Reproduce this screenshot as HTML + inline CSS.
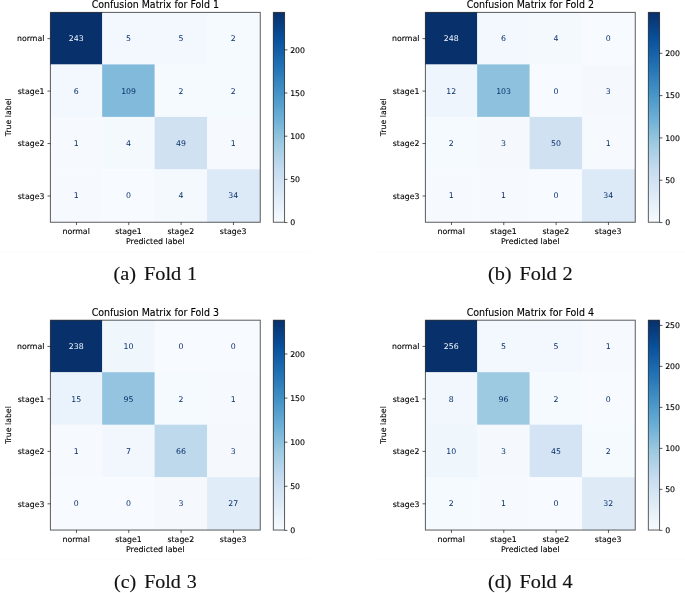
<!DOCTYPE html>
<html lang="en"><head><meta charset="utf-8"><title>Confusion matrices</title>
<style>
html,body{margin:0;padding:0;background:#fff;}
body{width:685px;height:593px;overflow:hidden;}
svg{display:block;}
.s{font-family:"DejaVu Sans","Liberation Sans",sans-serif;font-size:7.8px;fill:#000000;stroke:#000000;stroke-width:0.12px;}
.t{font-family:"DejaVu Sans","Liberation Sans",sans-serif;font-size:9.47px;fill:#000000;stroke:#000000;stroke-width:0.12px;}
.c{font-family:"Liberation Serif","DejaVu Serif",serif;font-size:19px;fill:#111;stroke:#111;stroke-width:0.15px;word-spacing:1.5px;}
.m{text-anchor:middle;}.e{text-anchor:end;}
.d{fill:#08306b;stroke:none;}.l{fill:#f7fbff;stroke:none;}
.k{stroke:#000000;stroke-opacity:0.64;stroke-width:1;fill:none;}
</style></head><body>
<svg width="685" height="593" viewBox="0 0 685 593">
<defs><linearGradient id="blues" x1="0" y1="1" x2="0" y2="0">
<stop offset="0" stop-color="#f7fbff"/>
<stop offset="0.125" stop-color="#deebf7"/>
<stop offset="0.25" stop-color="#c6dbef"/>
<stop offset="0.375" stop-color="#9dcae1"/>
<stop offset="0.5" stop-color="#6aaed6"/>
<stop offset="0.625" stop-color="#4191c6"/>
<stop offset="0.75" stop-color="#2070b4"/>
<stop offset="0.875" stop-color="#08509b"/>
<stop offset="1" stop-color="#08306b"/>
</linearGradient></defs>
<rect x="0" y="0" width="685" height="593" fill="#ffffff"/>
<rect x="0" y="251.3" width="310.6" height="1.2" fill="#fdfdfd"/>
<rect x="375.6" y="251.3" width="309.4" height="1.2" fill="#fdfdfd"/>
<rect x="0" y="558.9" width="310.6" height="1.2" fill="#fdfdfd"/>
<rect x="375.6" y="558.9" width="309.4" height="1.2" fill="#fdfdfd"/>
<g>
<text class="t m" transform="translate(155.32 7.8) scale(1 1.09)">Confusion Matrix for Fold 1</text>
<rect x="50.4" y="12.4" width="52.06" height="52.31" fill="#08306b"/>
<rect x="102.16" y="12.4" width="52.76" height="52.31" fill="#f3f8fe"/>
<rect x="154.62" y="12.4" width="52.76" height="52.31" fill="#f3f8fe"/>
<rect x="207.09" y="12.4" width="53.16" height="52.31" fill="#f5fafe"/>
<rect x="50.4" y="64.41" width="52.06" height="52.76" fill="#f2f8fd"/>
<rect x="102.16" y="64.41" width="52.76" height="52.76" fill="#81badb"/>
<rect x="154.62" y="64.41" width="52.76" height="52.76" fill="#f5fafe"/>
<rect x="207.09" y="64.41" width="53.16" height="52.76" fill="#f5fafe"/>
<rect x="50.4" y="116.88" width="52.06" height="52.76" fill="#f6faff"/>
<rect x="102.16" y="116.88" width="52.76" height="52.76" fill="#f4f9fe"/>
<rect x="154.62" y="116.88" width="52.76" height="52.76" fill="#d0e1f2"/>
<rect x="207.09" y="116.88" width="53.16" height="52.76" fill="#f6faff"/>
<rect x="50.4" y="169.34" width="52.06" height="52.91" fill="#f6faff"/>
<rect x="102.16" y="169.34" width="52.76" height="52.91" fill="#f7fbff"/>
<rect x="154.62" y="169.34" width="52.76" height="52.91" fill="#f4f9fe"/>
<rect x="207.09" y="169.34" width="53.16" height="52.91" fill="#dce9f6"/>
<text class="s m l" x="76.25" y="41.45">243</text>
<text class="s m d" x="128.58" y="41.45">5</text>
<text class="s m d" x="180.91" y="41.45">5</text>
<text class="s m d" x="233.24" y="41.45">2</text>
<text class="s m d" x="76.25" y="93.76">6</text>
<text class="s m d" x="128.58" y="93.76">109</text>
<text class="s m d" x="180.91" y="93.76">2</text>
<text class="s m d" x="233.24" y="93.76">2</text>
<text class="s m d" x="76.25" y="146.07">1</text>
<text class="s m d" x="128.58" y="146.07">4</text>
<text class="s m d" x="180.91" y="146.07">49</text>
<text class="s m d" x="233.24" y="146.07">1</text>
<text class="s m d" x="76.25" y="198.38">1</text>
<text class="s m d" x="128.58" y="198.38">0</text>
<text class="s m d" x="180.91" y="198.38">4</text>
<text class="s m d" x="233.24" y="198.38">34</text>
<rect class="k" x="50.4" y="12.4" width="209.85" height="209.85"/>
<line class="k" x1="47.5" y1="38.63" x2="50.4" y2="38.63"/>
<line class="k" x1="76.45" y1="222.25" x2="76.45" y2="225.15"/>
<text class="s e" x="44.4" y="41.45">normal</text>
<text class="s m" x="76.15" y="233.95">normal</text>
<line class="k" x1="47.5" y1="91.09" x2="50.4" y2="91.09"/>
<line class="k" x1="128.78" y1="222.25" x2="128.78" y2="225.15"/>
<text class="s e" x="44.4" y="93.91">stage1</text>
<text class="s m" x="128.48" y="233.95">stage1</text>
<line class="k" x1="47.5" y1="143.56" x2="50.4" y2="143.56"/>
<line class="k" x1="181.11" y1="222.25" x2="181.11" y2="225.15"/>
<text class="s e" x="44.4" y="146.38">stage2</text>
<text class="s m" x="180.81" y="233.95">stage2</text>
<line class="k" x1="47.5" y1="196.02" x2="50.4" y2="196.02"/>
<line class="k" x1="233.44" y1="222.25" x2="233.44" y2="225.15"/>
<text class="s e" x="44.4" y="198.84">stage3</text>
<text class="s m" x="233.14" y="233.95">stage3</text>
<text class="s m" style="font-size:7.9px" x="155.32" y="244.35">Predicted label</text>
<text class="s m" transform="translate(11.1 117.33) rotate(-90)">True label</text>
<rect x="273.35" y="12.4" width="11.2" height="209.85" fill="url(#blues)"/>
<rect class="k" x="273.35" y="12.4" width="11.2" height="209.85"/>
<line class="k" x1="284.55" y1="222.55" x2="287.45" y2="222.55"/>
<text class="s" x="290.15" y="225.37">0</text>
<line class="k" x1="284.55" y1="179.37" x2="287.45" y2="179.37"/>
<text class="s" x="290.15" y="182.19">50</text>
<line class="k" x1="284.55" y1="136.19" x2="287.45" y2="136.19"/>
<text class="s" x="290.15" y="139.01">100</text>
<line class="k" x1="284.55" y1="93.01" x2="287.45" y2="93.01"/>
<text class="s" x="290.15" y="95.83">150</text>
<line class="k" x1="284.55" y1="49.83" x2="287.45" y2="49.83"/>
<text class="s" x="290.15" y="52.65">200</text>
<text class="c" x="113.45" y="280.3" textLength="83.75" lengthAdjust="spacingAndGlyphs">(a) <tspan dx="1.3">Fold</tspan> <tspan dx="-0.8">1</tspan></text>
</g>
<g>
<text class="t m" transform="translate(530.32 7.8) scale(1 1.09)">Confusion Matrix for Fold 2</text>
<rect x="425.4" y="12.4" width="52.06" height="52.31" fill="#08306b"/>
<rect x="477.16" y="12.4" width="52.76" height="52.31" fill="#f2f8fd"/>
<rect x="529.62" y="12.4" width="52.76" height="52.31" fill="#f4f9fe"/>
<rect x="582.09" y="12.4" width="53.16" height="52.31" fill="#f7fbff"/>
<rect x="425.4" y="64.41" width="52.06" height="52.76" fill="#eef5fc"/>
<rect x="477.16" y="64.41" width="52.76" height="52.76" fill="#8dc1dd"/>
<rect x="529.62" y="64.41" width="52.76" height="52.76" fill="#f7fbff"/>
<rect x="582.09" y="64.41" width="53.16" height="52.76" fill="#f5f9fe"/>
<rect x="425.4" y="116.88" width="52.06" height="52.76" fill="#f5fafe"/>
<rect x="477.16" y="116.88" width="52.76" height="52.76" fill="#f5f9fe"/>
<rect x="529.62" y="116.88" width="52.76" height="52.76" fill="#d0e1f2"/>
<rect x="582.09" y="116.88" width="53.16" height="52.76" fill="#f6faff"/>
<rect x="425.4" y="169.34" width="52.06" height="52.91" fill="#f6faff"/>
<rect x="477.16" y="169.34" width="52.76" height="52.91" fill="#f6faff"/>
<rect x="529.62" y="169.34" width="52.76" height="52.91" fill="#f7fbff"/>
<rect x="582.09" y="169.34" width="53.16" height="52.91" fill="#dce9f6"/>
<text class="s m l" x="451.25" y="41.45">248</text>
<text class="s m d" x="503.58" y="41.45">6</text>
<text class="s m d" x="555.91" y="41.45">4</text>
<text class="s m d" x="608.24" y="41.45">0</text>
<text class="s m d" x="451.25" y="93.76">12</text>
<text class="s m d" x="503.58" y="93.76">103</text>
<text class="s m d" x="555.91" y="93.76">0</text>
<text class="s m d" x="608.24" y="93.76">3</text>
<text class="s m d" x="451.25" y="146.07">2</text>
<text class="s m d" x="503.58" y="146.07">3</text>
<text class="s m d" x="555.91" y="146.07">50</text>
<text class="s m d" x="608.24" y="146.07">1</text>
<text class="s m d" x="451.25" y="198.38">1</text>
<text class="s m d" x="503.58" y="198.38">1</text>
<text class="s m d" x="555.91" y="198.38">0</text>
<text class="s m d" x="608.24" y="198.38">34</text>
<rect class="k" x="425.4" y="12.4" width="209.85" height="209.85"/>
<line class="k" x1="422.5" y1="38.63" x2="425.4" y2="38.63"/>
<line class="k" x1="451.45" y1="222.25" x2="451.45" y2="225.15"/>
<text class="s e" x="419.4" y="41.45">normal</text>
<text class="s m" x="451.15" y="233.95">normal</text>
<line class="k" x1="422.5" y1="91.09" x2="425.4" y2="91.09"/>
<line class="k" x1="503.78" y1="222.25" x2="503.78" y2="225.15"/>
<text class="s e" x="419.4" y="93.91">stage1</text>
<text class="s m" x="503.48" y="233.95">stage1</text>
<line class="k" x1="422.5" y1="143.56" x2="425.4" y2="143.56"/>
<line class="k" x1="556.11" y1="222.25" x2="556.11" y2="225.15"/>
<text class="s e" x="419.4" y="146.38">stage2</text>
<text class="s m" x="555.81" y="233.95">stage2</text>
<line class="k" x1="422.5" y1="196.02" x2="425.4" y2="196.02"/>
<line class="k" x1="608.44" y1="222.25" x2="608.44" y2="225.15"/>
<text class="s e" x="419.4" y="198.84">stage3</text>
<text class="s m" x="608.14" y="233.95">stage3</text>
<text class="s m" style="font-size:7.9px" x="530.32" y="244.35">Predicted label</text>
<text class="s m" transform="translate(386.1 117.33) rotate(-90)">True label</text>
<rect x="648.35" y="12.4" width="11.2" height="209.85" fill="url(#blues)"/>
<rect class="k" x="648.35" y="12.4" width="11.2" height="209.85"/>
<line class="k" x1="659.55" y1="222.55" x2="662.45" y2="222.55"/>
<text class="s" x="665.15" y="225.37">0</text>
<line class="k" x1="659.55" y1="180.24" x2="662.45" y2="180.24"/>
<text class="s" x="665.15" y="183.06">50</text>
<line class="k" x1="659.55" y1="137.93" x2="662.45" y2="137.93"/>
<text class="s" x="665.15" y="140.75">100</text>
<line class="k" x1="659.55" y1="95.62" x2="662.45" y2="95.62"/>
<text class="s" x="665.15" y="98.44">150</text>
<line class="k" x1="659.55" y1="53.32" x2="662.45" y2="53.32"/>
<text class="s" x="665.15" y="56.14">200</text>
<text class="c" x="487.92" y="280.3" textLength="84.8" lengthAdjust="spacingAndGlyphs">(b) <tspan dx="1.3">Fold</tspan> <tspan dx="-0.8">2</tspan></text>
</g>
<g>
<text class="t m" transform="translate(155.32 315.6) scale(1 1.09)">Confusion Matrix for Fold 3</text>
<rect x="50.4" y="320.2" width="52.06" height="52.31" fill="#08306b"/>
<rect x="102.16" y="320.2" width="52.76" height="52.31" fill="#eff6fc"/>
<rect x="154.62" y="320.2" width="52.76" height="52.31" fill="#f7fbff"/>
<rect x="207.09" y="320.2" width="53.16" height="52.31" fill="#f7fbff"/>
<rect x="50.4" y="372.21" width="52.06" height="52.76" fill="#eaf3fb"/>
<rect x="102.16" y="372.21" width="52.76" height="52.76" fill="#94c4df"/>
<rect x="154.62" y="372.21" width="52.76" height="52.76" fill="#f5fafe"/>
<rect x="207.09" y="372.21" width="53.16" height="52.76" fill="#f6faff"/>
<rect x="50.4" y="424.68" width="52.06" height="52.76" fill="#f6faff"/>
<rect x="102.16" y="424.68" width="52.76" height="52.76" fill="#f2f7fd"/>
<rect x="154.62" y="424.68" width="52.76" height="52.76" fill="#bed8ec"/>
<rect x="207.09" y="424.68" width="53.16" height="52.76" fill="#f5f9fe"/>
<rect x="50.4" y="477.14" width="52.06" height="52.91" fill="#f7fbff"/>
<rect x="102.16" y="477.14" width="52.76" height="52.91" fill="#f7fbff"/>
<rect x="154.62" y="477.14" width="52.76" height="52.91" fill="#f5f9fe"/>
<rect x="207.09" y="477.14" width="53.16" height="52.91" fill="#e0ecf8"/>
<text class="s m l" x="76.25" y="349.25">238</text>
<text class="s m d" x="128.58" y="349.25">10</text>
<text class="s m d" x="180.91" y="349.25">0</text>
<text class="s m d" x="233.24" y="349.25">0</text>
<text class="s m d" x="76.25" y="401.56">15</text>
<text class="s m d" x="128.58" y="401.56">95</text>
<text class="s m d" x="180.91" y="401.56">2</text>
<text class="s m d" x="233.24" y="401.56">1</text>
<text class="s m d" x="76.25" y="453.87">1</text>
<text class="s m d" x="128.58" y="453.87">7</text>
<text class="s m d" x="180.91" y="453.87">66</text>
<text class="s m d" x="233.24" y="453.87">3</text>
<text class="s m d" x="76.25" y="506.18">0</text>
<text class="s m d" x="128.58" y="506.18">0</text>
<text class="s m d" x="180.91" y="506.18">3</text>
<text class="s m d" x="233.24" y="506.18">27</text>
<rect class="k" x="50.4" y="320.2" width="209.85" height="209.85"/>
<line class="k" x1="47.5" y1="346.43" x2="50.4" y2="346.43"/>
<line class="k" x1="76.45" y1="530.05" x2="76.45" y2="532.95"/>
<text class="s e" x="44.4" y="349.25">normal</text>
<text class="s m" x="76.15" y="541.75">normal</text>
<line class="k" x1="47.5" y1="398.89" x2="50.4" y2="398.89"/>
<line class="k" x1="128.78" y1="530.05" x2="128.78" y2="532.95"/>
<text class="s e" x="44.4" y="401.71">stage1</text>
<text class="s m" x="128.48" y="541.75">stage1</text>
<line class="k" x1="47.5" y1="451.36" x2="50.4" y2="451.36"/>
<line class="k" x1="181.11" y1="530.05" x2="181.11" y2="532.95"/>
<text class="s e" x="44.4" y="454.18">stage2</text>
<text class="s m" x="180.81" y="541.75">stage2</text>
<line class="k" x1="47.5" y1="503.82" x2="50.4" y2="503.82"/>
<line class="k" x1="233.44" y1="530.05" x2="233.44" y2="532.95"/>
<text class="s e" x="44.4" y="506.64">stage3</text>
<text class="s m" x="233.14" y="541.75">stage3</text>
<text class="s m" style="font-size:7.9px" x="155.32" y="552.15">Predicted label</text>
<text class="s m" transform="translate(11.1 425.12) rotate(-90)">True label</text>
<rect x="273.35" y="320.2" width="11.2" height="209.85" fill="url(#blues)"/>
<rect class="k" x="273.35" y="320.2" width="11.2" height="209.85"/>
<line class="k" x1="284.55" y1="530.35" x2="287.45" y2="530.35"/>
<text class="s" x="290.15" y="533.17">0</text>
<line class="k" x1="284.55" y1="486.26" x2="287.45" y2="486.26"/>
<text class="s" x="290.15" y="489.08">50</text>
<line class="k" x1="284.55" y1="442.18" x2="287.45" y2="442.18"/>
<text class="s" x="290.15" y="445">100</text>
<line class="k" x1="284.55" y1="398.09" x2="287.45" y2="398.09"/>
<text class="s" x="290.15" y="400.91">150</text>
<line class="k" x1="284.55" y1="354.01" x2="287.45" y2="354.01"/>
<text class="s" x="290.15" y="356.83">200</text>
<text class="c" x="113.98" y="588.1" textLength="82.69" lengthAdjust="spacingAndGlyphs">(c) <tspan dx="1.3">Fold</tspan> <tspan dx="-0.8">3</tspan></text>
</g>
<g>
<text class="t m" transform="translate(530.32 315.6) scale(1 1.09)">Confusion Matrix for Fold 4</text>
<rect x="425.4" y="320.2" width="52.06" height="52.31" fill="#08306b"/>
<rect x="477.16" y="320.2" width="52.76" height="52.31" fill="#f3f8fe"/>
<rect x="529.62" y="320.2" width="52.76" height="52.31" fill="#f3f8fe"/>
<rect x="582.09" y="320.2" width="53.16" height="52.31" fill="#f6faff"/>
<rect x="425.4" y="372.21" width="52.06" height="52.76" fill="#f1f7fd"/>
<rect x="477.16" y="372.21" width="52.76" height="52.76" fill="#9dcae1"/>
<rect x="529.62" y="372.21" width="52.76" height="52.76" fill="#f5fafe"/>
<rect x="582.09" y="372.21" width="53.16" height="52.76" fill="#f7fbff"/>
<rect x="425.4" y="424.68" width="52.06" height="52.76" fill="#eff6fc"/>
<rect x="477.16" y="424.68" width="52.76" height="52.76" fill="#f5f9fe"/>
<rect x="529.62" y="424.68" width="52.76" height="52.76" fill="#d4e4f4"/>
<rect x="582.09" y="424.68" width="53.16" height="52.76" fill="#f5fafe"/>
<rect x="425.4" y="477.14" width="52.06" height="52.91" fill="#f5fafe"/>
<rect x="477.16" y="477.14" width="52.76" height="52.91" fill="#f6faff"/>
<rect x="529.62" y="477.14" width="52.76" height="52.91" fill="#f7fbff"/>
<rect x="582.09" y="477.14" width="53.16" height="52.91" fill="#deebf7"/>
<text class="s m l" x="451.25" y="349.25">256</text>
<text class="s m d" x="503.58" y="349.25">5</text>
<text class="s m d" x="555.91" y="349.25">5</text>
<text class="s m d" x="608.24" y="349.25">1</text>
<text class="s m d" x="451.25" y="401.56">8</text>
<text class="s m d" x="503.58" y="401.56">96</text>
<text class="s m d" x="555.91" y="401.56">2</text>
<text class="s m d" x="608.24" y="401.56">0</text>
<text class="s m d" x="451.25" y="453.87">10</text>
<text class="s m d" x="503.58" y="453.87">3</text>
<text class="s m d" x="555.91" y="453.87">45</text>
<text class="s m d" x="608.24" y="453.87">2</text>
<text class="s m d" x="451.25" y="506.18">2</text>
<text class="s m d" x="503.58" y="506.18">1</text>
<text class="s m d" x="555.91" y="506.18">0</text>
<text class="s m d" x="608.24" y="506.18">32</text>
<rect class="k" x="425.4" y="320.2" width="209.85" height="209.85"/>
<line class="k" x1="422.5" y1="346.43" x2="425.4" y2="346.43"/>
<line class="k" x1="451.45" y1="530.05" x2="451.45" y2="532.95"/>
<text class="s e" x="419.4" y="349.25">normal</text>
<text class="s m" x="451.15" y="541.75">normal</text>
<line class="k" x1="422.5" y1="398.89" x2="425.4" y2="398.89"/>
<line class="k" x1="503.78" y1="530.05" x2="503.78" y2="532.95"/>
<text class="s e" x="419.4" y="401.71">stage1</text>
<text class="s m" x="503.48" y="541.75">stage1</text>
<line class="k" x1="422.5" y1="451.36" x2="425.4" y2="451.36"/>
<line class="k" x1="556.11" y1="530.05" x2="556.11" y2="532.95"/>
<text class="s e" x="419.4" y="454.18">stage2</text>
<text class="s m" x="555.81" y="541.75">stage2</text>
<line class="k" x1="422.5" y1="503.82" x2="425.4" y2="503.82"/>
<line class="k" x1="608.44" y1="530.05" x2="608.44" y2="532.95"/>
<text class="s e" x="419.4" y="506.64">stage3</text>
<text class="s m" x="608.14" y="541.75">stage3</text>
<text class="s m" style="font-size:7.9px" x="530.32" y="552.15">Predicted label</text>
<text class="s m" transform="translate(386.1 425.12) rotate(-90)">True label</text>
<rect x="648.35" y="320.2" width="11.2" height="209.85" fill="url(#blues)"/>
<rect class="k" x="648.35" y="320.2" width="11.2" height="209.85"/>
<line class="k" x1="659.55" y1="530.35" x2="662.45" y2="530.35"/>
<text class="s" x="665.15" y="533.17">0</text>
<line class="k" x1="659.55" y1="489.36" x2="662.45" y2="489.36"/>
<text class="s" x="665.15" y="492.18">50</text>
<line class="k" x1="659.55" y1="448.38" x2="662.45" y2="448.38"/>
<text class="s" x="665.15" y="451.2">100</text>
<line class="k" x1="659.55" y1="407.39" x2="662.45" y2="407.39"/>
<text class="s" x="665.15" y="410.21">150</text>
<line class="k" x1="659.55" y1="366.4" x2="662.45" y2="366.4"/>
<text class="s" x="665.15" y="369.22">200</text>
<line class="k" x1="659.55" y1="325.42" x2="662.45" y2="325.42"/>
<text class="s" x="665.15" y="328.24">250</text>
<text class="c" x="487.92" y="588.1" textLength="84.8" lengthAdjust="spacingAndGlyphs">(d) <tspan dx="1.3">Fold</tspan> <tspan dx="-0.8">4</tspan></text>
</g>
</svg>
</body></html>
